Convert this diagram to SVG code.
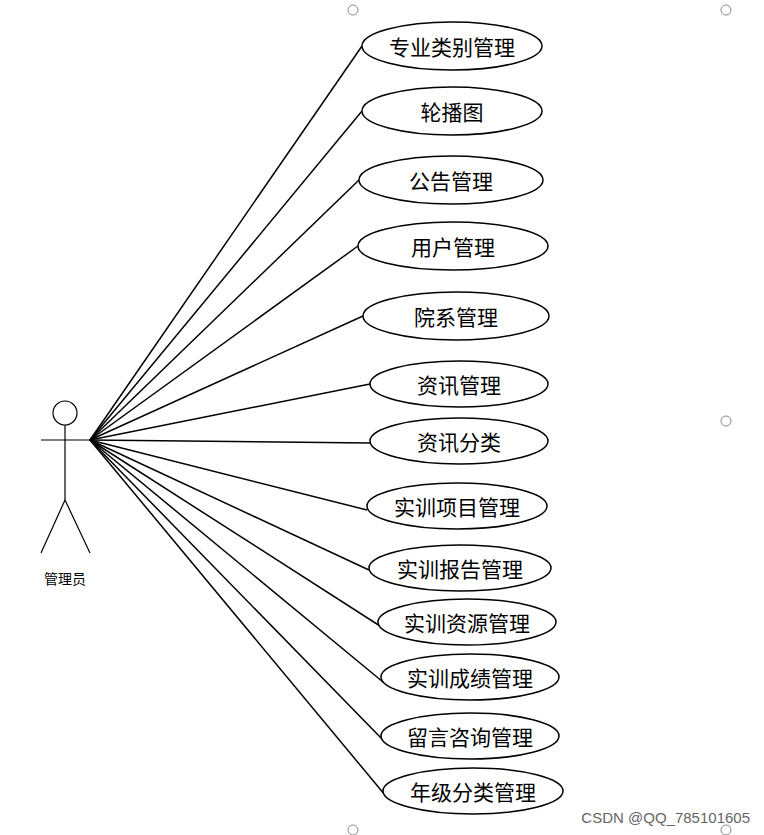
<svg xmlns="http://www.w3.org/2000/svg" width="764" height="835" viewBox="0 0 764 835">
<style>
.n ellipse{fill:#fff;stroke:#000;stroke-width:1.5}
.n text{font-family:"Noto Sans CJK SC",sans-serif;font-size:21px;text-anchor:middle;dominant-baseline:central;fill:#000}
#connectors line{stroke:#000;stroke-width:1.5}
.h{fill:#fff;stroke:#888;stroke-width:1}
</style>
<rect width="764" height="835" fill="#fff"/>
<g id="connectors">
<line x1="90" y1="440" x2="362" y2="46"/>
<line x1="90" y1="440" x2="362" y2="111"/>
<line x1="90" y1="440" x2="359" y2="180"/>
<line x1="90" y1="440" x2="358" y2="246"/>
<line x1="90" y1="440" x2="363" y2="316"/>
<line x1="90" y1="440" x2="370" y2="384"/>
<line x1="90" y1="440" x2="370" y2="443"/>
<line x1="90" y1="440" x2="367" y2="510"/>
<line x1="90" y1="440" x2="369" y2="570"/>
<line x1="90" y1="440" x2="380" y2="626"/>
<line x1="90" y1="440" x2="383" y2="682"/>
<line x1="90" y1="440" x2="383" y2="740"/>
<line x1="90" y1="440" x2="385" y2="795"/>
</g>
<g id="actor" fill="none" stroke="#000" stroke-width="1.2">
<circle cx="65" cy="413" r="12" fill="#fff"/>
<line x1="65" y1="425" x2="65" y2="500"/>
<line x1="41" y1="440" x2="90" y2="440"/>
<line x1="65" y1="500" x2="41" y2="553"/>
<line x1="65" y1="500" x2="90" y2="553"/>
<text x="65" y="578" stroke="none" fill="#000" font-family="Noto Sans CJK SC,sans-serif" font-size="14" text-anchor="middle" dominant-baseline="central">管理员</text>
</g>
<g id="n1" class="n"><ellipse cx="452" cy="46" rx="90" ry="24"/><text x="452" y="46">专业类别管理</text></g>
<g id="n2" class="n"><ellipse cx="452" cy="111" rx="90" ry="24"/><text x="452" y="111">轮播图</text></g>
<g id="n3" class="n"><ellipse cx="451" cy="180" rx="92" ry="24"/><text x="451" y="180">公告管理</text></g>
<g id="n4" class="n"><ellipse cx="453" cy="246" rx="95" ry="24"/><text x="453" y="246">用户管理</text></g>
<g id="n5" class="n"><ellipse cx="456" cy="316" rx="93" ry="24"/><text x="456" y="316">院系管理</text></g>
<g id="n6" class="n"><ellipse cx="459" cy="384" rx="89" ry="23"/><text x="459" y="384">资讯管理</text></g>
<g id="n7" class="n"><ellipse cx="459" cy="441" rx="89" ry="23"/><text x="459" y="441">资讯分类</text></g>
<g id="n8" class="n"><ellipse cx="457" cy="506" rx="90" ry="23"/><text x="457" y="506">实训项目管理</text></g>
<g id="n9" class="n"><ellipse cx="460" cy="568" rx="91" ry="23"/><text x="460" y="568">实训报告管理</text></g>
<g id="n10" class="n"><ellipse cx="467" cy="622" rx="89" ry="23"/><text x="467" y="622">实训资源管理</text></g>
<g id="n11" class="n"><ellipse cx="470" cy="677" rx="89" ry="23"/><text x="470" y="677">实训成绩管理</text></g>
<g id="n12" class="n"><ellipse cx="470" cy="736" rx="89" ry="23"/><text x="470" y="736">留言咨询管理</text></g>
<g id="n13" class="n"><ellipse cx="473" cy="791" rx="90" ry="23"/><text x="473" y="791">年级分类管理</text></g>
<g id="handles">
<circle class="h" cx="353" cy="10" r="5"/><circle class="h" cx="726" cy="10" r="5"/>
<circle class="h" cx="726" cy="421" r="5"/><circle class="h" cx="353" cy="830" r="5"/>
<circle class="h" cx="726" cy="830" r="5"/>
</g>
<text x="750" y="817" font-family="Liberation Sans,sans-serif" font-size="15" fill="#666" text-anchor="end" dominant-baseline="central">CSDN @QQ_785101605</text>
</svg>
